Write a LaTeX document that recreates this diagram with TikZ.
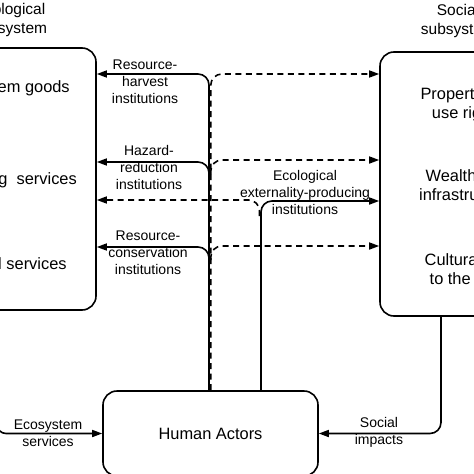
\documentclass[tikz,border=0pt]{standalone}
\usepackage{fontspec}
\setmainfont{Liberation Sans}
\usetikzlibrary{arrows.meta,calc}
\begin{document}
\begin{tikzpicture}[x=1pt,y=-1pt,
  box/.style={draw,line width=1.6pt,rounded corners=14pt,inner sep=0pt},
  conn/.style={line width=1.6pt,rounded corners=11pt,-{Triangle[length=10pt,width=7pt]}},
  dconn/.style={conn,dash pattern=on 6pt off 4.5pt},
  btext/.style={font=\fontsize{16.4}{19}\selectfont,align=center,inner sep=0pt},
  ttext/.style={font=\fontsize{15.5}{19}\selectfont,align=center,inner sep=0pt},
  lbl/.style={font=\fontsize{14}{17}\selectfont,align=center,inner sep=0pt}
]
\useasboundingbox (0,0) rectangle (474,474);
\fill[white] (0,0) rectangle (474,474);
\clip (0,0) rectangle (474,474);

% boxes
\node[box,minimum width=182pt,minimum height=262pt] (eco) at (5,179) {};
\node[box,minimum width=176pt,minimum height=264pt] (so) at (468,184) {};
\node[box,minimum width=215pt,minimum height=85pt,btext] (ha) at (210.5,433.5) {Human Actors};

% titles
\node[ttext] (ecot) at (10,20) {Ecological\\subsystem};
\node[ttext] (sot) at (458,20.5) {Social\\subsystem};

% box contents
\node[btext] (eg) at (5,88) {Ecosystem goods};
\node[btext] (rs) at (3,180) {Regulating\ \ services};
\node[btext] (cs) at (6,264) {Cultural services};
\node[btext] (pr) at (467.5,104.5) {Property and\\use rights};
\node[btext] (wi) at (467,185.5) {Wealth and\\infrastructure};
\node[btext] (ct) at (468,269) {Cultural ties\\to the land};

% coordinates
\coordinate (tA) at (209,0);
\coordinate (tAd) at (210.8,0);
\coordinate (tC) at (261,0);
\coordinate (tCd) at (259.5,0);
\coordinate (rh) at (0,74);
\coordinate (hz) at (0,162);
\coordinate (rc) at (0,247);
\coordinate (d1) at (0,74);
\coordinate (d2) at (0,160);
\coordinate (d3) at (0,246);
\coordinate (de) at (0,200);
\coordinate (ee) at (0,201);
\coordinate (esx) at (-3,0);
\coordinate (six) at (441,0);

% dashed institutions towards social subsystem
\draw[dconn] (ha.north -| tAd) |- (so.west |- d1);
\draw[dconn] ($(tAd |- d2)+(0,14)$) |- (so.west |- d2);
\draw[dconn] ($(tAd |- d3)+(0,14)$) |- (so.west |- d3);
\draw[dconn] ($(tCd |- de)+(0,16)$) |- (eco.east |- de);

% solid institutions towards ecological subsystem
\draw[conn] (ha.north -| tA) |- (eco.east |- rh);
\draw[conn] ($(tA |- hz)+(0,14)$) |- (eco.east |- hz);
\draw[conn] ($(tA |- rc)+(0,14)$) |- (eco.east |- rc);
\draw[conn] (ha.north -| tC) |- (so.west |- ee);

% lower connectors
\draw[conn,rounded corners=9pt] (eco.south -| esx) |- (ha.west);
\draw[conn] (so.south -| six) |- (ha.east);

% labels
\node[lbl] (lrh) at (145,82) {Resource-\\harvest\\institutions};
\node[lbl] (lhz) at (149,167.5) {Hazard-\\reduction\\institutions};
\node[lbl] (lrc) at (148,253) {Resource-\\conservation\\institutions};
\node[lbl] (lee) at (305,192) {Ecological\\externality-producing\\institutions};
\node[lbl] (les) at (48,433.5) {Ecosystem\\services};
\node[lbl] (lsi) at (379,432) {Social\\impacts};
\end{tikzpicture}
\end{document}
